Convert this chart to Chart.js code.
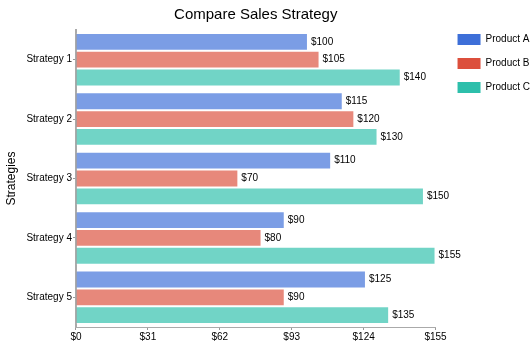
<!DOCTYPE html>
<html>
<head>
<meta charset="utf-8">
<script src="https://cdn.jsdelivr.net/npm/chart.js@4"></script>
<style>
  html, body { margin: 0; padding: 0; background: #fff; }
  #wrap { width: 532px; height: 354px; }
</style>
</head>
<body>
<div id="wrap"><canvas id="myChart" width="532" height="354"></canvas></div>
<script>
(function(){
  'use strict';

  const strategies = ['Strategy 1', 'Strategy 2', 'Strategy 3', 'Strategy 4', 'Strategy 5'];
  const productNames = ['Product A', 'Product B', 'Product C'];
  const productA = [100, 115, 110, 90, 125];
  const productB = [105, 120, 70, 80, 90];
  const productC = [140, 130, 150, 155, 135];
  const tickValues = [0, 31, 62, 93, 124, 155];

  const solid = ['#3d6fd8', '#dc4f3c', '#2dbfab'];
  const faded = ['rgba(61,111,216,0.68)', 'rgba(220,79,60,0.68)', 'rgba(45,191,171,0.68)'];
  const font = '"Liberation Sans", Arial, sans-serif';

  // write the value just after the end of each bar
  const valueLabels = {
    id: 'valueLabels',
    afterDatasetsDraw(chart){
      const ctx = chart.ctx;
      ctx.save();
      ctx.font = '10px ' + font;
      ctx.fillStyle = '#000';
      ctx.textBaseline = 'middle';
      ctx.textAlign = 'left';
      chart.data.datasets.forEach((ds, i) => {
        chart.getDatasetMeta(i).data.forEach((bar, j) => {
          ctx.fillText('$' + ds.data[j], bar.x + 3, bar.y);
        });
      });
      ctx.restore();
    }
  };

  // leave a gap between plot and legend, and lift the legend a little
  const legendNudge = {
    id: 'legendNudge',
    afterLayout(chart){
      chart.legend.left += 9;
      chart.legend.right += 9;
      chart.legend.top -= 9;
    }
  };

  const sets = [productA, productB, productC].map((vals, i) => ({
    label: productNames[i],
    data: vals,
    backgroundColor: faded[i],
    borderColor: 'rgba(255,255,255,0.5)',
    borderWidth: 1,
    categoryPercentage: 0.9,
    barPercentage: 1.0
  }));

  const ctx = document.getElementById('myChart').getContext('2d');
  new Chart(ctx, {
    type: 'bar',
    data: { labels: strategies, datasets: sets },
    plugins: [valueLabels, legendNudge],
    options: {
      indexAxis: 'y',
      responsive: false,
      animation: false,
      layout: { padding: { left: 3, right: 1, top: 0, bottom: 10 } },
      scales: {
        x: {
          min: 0,
          max: 155,
          afterBuildTicks(axis){
            axis.ticks = tickValues.map(v => ({ value: v }));
          },
          grid: { drawOnChartArea: false, drawTicks: true, tickLength: 3, color: '#999' },
          border: { color: '#aaa', width: 1 },
          ticks: {
            color: '#000',
            padding: 1,
            font: { family: font, size: 10 },
            callback: v => '$' + v
          }
        },
        y: {
          grid: { drawOnChartArea: false, drawTicks: true, tickLength: 3, color: '#999', offset: false },
          border: { color: '#aaa', width: 2 },
          ticks: {
            color: '#000',
            padding: 1,
            font: { family: font, size: 10 }
          },
          title: {
            display: true,
            text: 'Strategies',
            color: '#000',
            padding: { top: 1, bottom: 7 },
            font: { family: font, size: 12 }
          }
        }
      },
      plugins: {
        title: {
          display: true,
          fullSize: false,
          text: 'Compare Sales Strategy',
          color: '#000',
          padding: { top: 6, bottom: 6 },
          font: { family: font, size: 15, weight: 'normal' }
        },
        legend: {
          position: 'right',
          align: 'start',
          fullSize: false,
          labels: {
            boxWidth: 23,
            boxHeight: 11,
            padding: 13,
            color: '#000',
            font: { family: font, size: 10 },
            generateLabels(chart){
              return productNames.map((name, i) => ({
                text: name,
                fillStyle: solid[i],
                strokeStyle: solid[i],
                lineWidth: 0,
                datasetIndex: i
              }));
            }
          }
        },
        tooltip: { enabled: false }
      }
    }
  });
})();
</script>
</body>
</html>
